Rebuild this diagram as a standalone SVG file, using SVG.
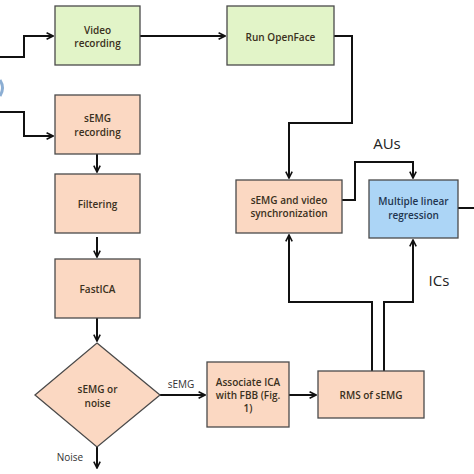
<svg xmlns="http://www.w3.org/2000/svg" width="474" height="474" viewBox="0 0 474 474">
<style>
.g{fill:#e2f4c8;stroke:#4a4a4a;stroke-width:1.3}
.o{fill:#fbd8c2;stroke:#4a4a4a;stroke-width:1.3}
.b{fill:#acd5f6;stroke:#4a4a4a;stroke-width:1.3}
.t{font-family:"Open Sans","Liberation Sans",sans-serif;font-size:10px;font-weight:600;fill:#3a3020;text-anchor:middle}
.tb{font-family:"Open Sans","Liberation Sans",sans-serif;font-size:10px;font-weight:600;fill:#1f3550;text-anchor:middle}
.l{font-family:"Open Sans","Liberation Sans",sans-serif;font-size:15px;fill:#222;text-anchor:middle}
.s{font-family:"Open Sans","Liberation Sans",sans-serif;font-size:10px;fill:#333;text-anchor:middle}
.c{fill:none;stroke:#111;stroke-width:2}
</style>
<defs>
<marker id="a" viewBox="0 0 10 10" refX="9" refY="5" markerWidth="4" markerHeight="4" orient="auto" markerUnits="strokeWidth">
<polyline points="1,1 9,5 1,9" fill="none" stroke="#111" stroke-width="2"/>
</marker>
</defs>
<rect width="474" height="474" fill="#fff"/>
<path d="M0,80 Q5,88 0,96" fill="none" stroke="#5b8cc0" stroke-width="3" opacity="0.7"/>
<g id="connectors">
<path class="c" d="M0,57 H24 V36 H53" marker-end="url(#a)"/>
<path class="c" d="M0,112 H24 V136 H53" marker-end="url(#a)"/>
<path class="c" d="M140,36 H225" marker-end="url(#a)"/>
<path class="c" d="M334,36 H352 V123 H289 V178" marker-end="url(#a)"/>
<path class="c" d="M97,154 V172" marker-end="url(#a)"/>
<path class="c" d="M97,237 V257" marker-end="url(#a)"/>
<path class="c" d="M97,318 V341" marker-end="url(#a)"/>
<path class="c" d="M160,395 H205" marker-end="url(#a)"/>
<path class="c" d="M97,447 V468" marker-end="url(#a)"/>
<path class="c" d="M289,395 H316" marker-end="url(#a)"/>
<path class="c" d="M372,371 V302 H289 V235" marker-end="url(#a)"/>
<path class="c" d="M384,371 V302 H413 V240" marker-end="url(#a)"/>
<path class="c" d="M342,200 H355 V162 H413 V178" marker-end="url(#a)"/>
<path class="c" d="M458,208 H474"/>
<text class="s" x="181" y="388">sEMG</text>
<text class="s" x="70" y="461">Noise</text>
<text class="l" x="387" y="149">AUs</text>
<text class="l" x="439" y="286">ICs</text>
</g>
<g id="video"><rect class="g" x="55" y="6" width="85" height="59"/><text class="t" x="97.5" y="34">Video</text><text class="t" x="97.5" y="47">recording</text></g>
<g id="openface"><rect class="g" x="227" y="6" width="107" height="59"/><text class="t" x="280.5" y="41">Run OpenFace</text></g>
<g id="semgrec"><rect class="o" x="55" y="95" width="85" height="59"/><text class="t" x="97.5" y="122">sEMG</text><text class="t" x="97.5" y="136">recording</text></g>
<g id="filtering"><rect class="o" x="55" y="174" width="85" height="59"/><text class="t" x="97.5" y="208">Filtering</text></g>
<g id="fastica"><rect class="o" x="55" y="259" width="85" height="59"/><text class="t" x="97.5" y="293">FastICA</text></g>
<g id="decision"><polygon class="o" points="97,343 160,395 97,447 35,395"/><text class="t" x="97.5" y="393">sEMG or</text><text class="t" x="97.5" y="407">noise</text></g>
<g id="associate"><rect class="o" x="207" y="362" width="82" height="65"/><text class="t" x="248" y="386">Associate ICA</text><text class="t" x="248" y="399">with FBB (Fig.</text><text class="t" x="248" y="412">1)</text></g>
<g id="rms"><rect class="o" x="318" y="371" width="106" height="47"/><text class="t" x="371" y="399">RMS of sEMG</text></g>
<g id="sync"><rect class="o" x="236" y="180" width="106" height="53"/><text class="t" x="289" y="204">sEMG and video</text><text class="t" x="289" y="217">synchronization</text></g>
<g id="mlr"><rect class="b" x="369" y="180" width="89" height="58"/><text class="tb" x="413.5" y="205">Multiple linear</text><text class="tb" x="413.5" y="219">regression</text></g>
</svg>
